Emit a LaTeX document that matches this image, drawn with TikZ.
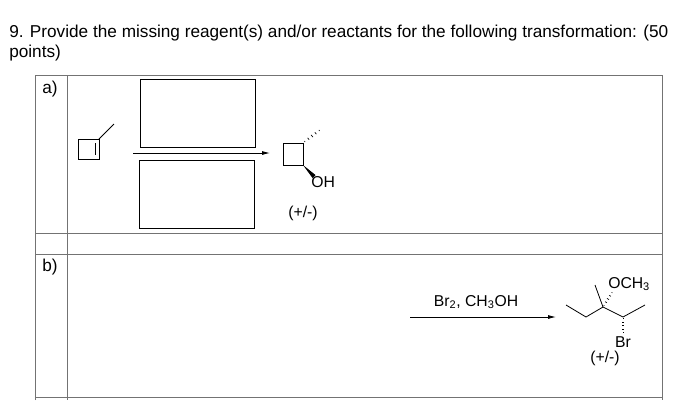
\documentclass[tikz,border=0pt]{standalone}
\usepackage{fontspec}
\setmainfont{Liberation Sans}
\usetikzlibrary{arrows.meta,calc}
\begin{document}
\begin{tikzpicture}[x=0.75pt,y=-0.75pt,
  grid/.style={draw=black!55,line width=0.6pt},
  bond/.style={line width=0.6pt},
  rxn/.style={line width=0.6pt,-{Latex[length=6pt,width=3pt]}},
  txt/.style={inner sep=0pt,font=\fontsize{12.9}{15}\selectfont},
  lbl/.style={inner sep=0pt,font=\fontsize{11.8}{13}\selectfont}]
\newcommand{\hashwedge}[2]{%
  \foreach \t in {0.1,0.3,0.5,0.7,0.9}{%
    \draw[line width=0.5pt] ($(#1)!\t!(#2)!{0.25*\t}!90:(#2)$) -- ($(#1)!\t!(#2)!{0.25*\t}!-90:(#2)$);}}
\useasboundingbox (0,0) rectangle (700,401);
\fill[white] (0,0) rectangle (700,401);
\node[txt,anchor=west] (t1) at (9,33) {9. Provide the missing reagent(s) and/or reactants for the following transformation: (50};
\node[txt,anchor=west] (t2) at (9,53) {points)};
% table
\draw[grid] (35,400) -- (35,75) -- (662,75) -- (662,400);
\draw[grid] (67,75) -- (67,400);
\draw[grid] (35,233) -- (662,233);
\draw[grid] (35,254) -- (662,254);
\draw[grid] (35,397) -- (662,397);
\node[txt,anchor=north west] (la) at (42,81) {a)};
\node[txt,anchor=north west] (lb) at (42,259) {b)};
% a) starting material
\draw[bond] (78,139) rectangle (99,159);
\draw[bond] (95.5,143) -- (95.5,155);
\draw[bond] (99,139) -- (114,124);
% boxes and arrow
\draw[line width=0.6pt] (140,79) rectangle (255,147);
\draw[line width=0.6pt] (139,160) rectangle (254,228);
\coordinate (a1) at (133,153);
\coordinate (a2) at (270,153);
\draw[rxn] (a1) -- (a2);
% product a
\draw[bond] (283,143) rectangle (303,165);
\coordinate (pa) at (303,143);
\coordinate (pb) at (321,129);
\hashwedge{pa}{pb}
\fill (303,165) -- (315.5,175) -- (312.5,178) -- cycle;
\node[lbl,anchor=west] (oh) at (311,182) {OH};
\node[lbl] (pm1) at (303,213) {(+/-)};
% b)
\coordinate (b1) at (410,317);
\coordinate (b2) at (556,317);
\draw[rxn] (b1) -- (b2);
\node[lbl] (reag) at (476,302) {Br\textsubscript{2}, CH\textsubscript{3}OH};
\draw[bond] (566,305) -- (586,317) -- (603,307) -- (595,285);
\draw[bond] (603,307) -- (623,317) -- (645,305);
\coordinate (c1) at (603,307);
\coordinate (c2) at (613,291);
\hashwedge{c1}{c2}
\coordinate (d1) at (623,317);
\coordinate (d2) at (623,334);
\hashwedge{d1}{d2}
\node[lbl,anchor=west] (och) at (608,284) {OCH\textsubscript{3}};
\node[lbl] (br) at (623,342) {Br};
\node[lbl] (pm2) at (605,358) {(+/-)};
\end{tikzpicture}
\end{document}
